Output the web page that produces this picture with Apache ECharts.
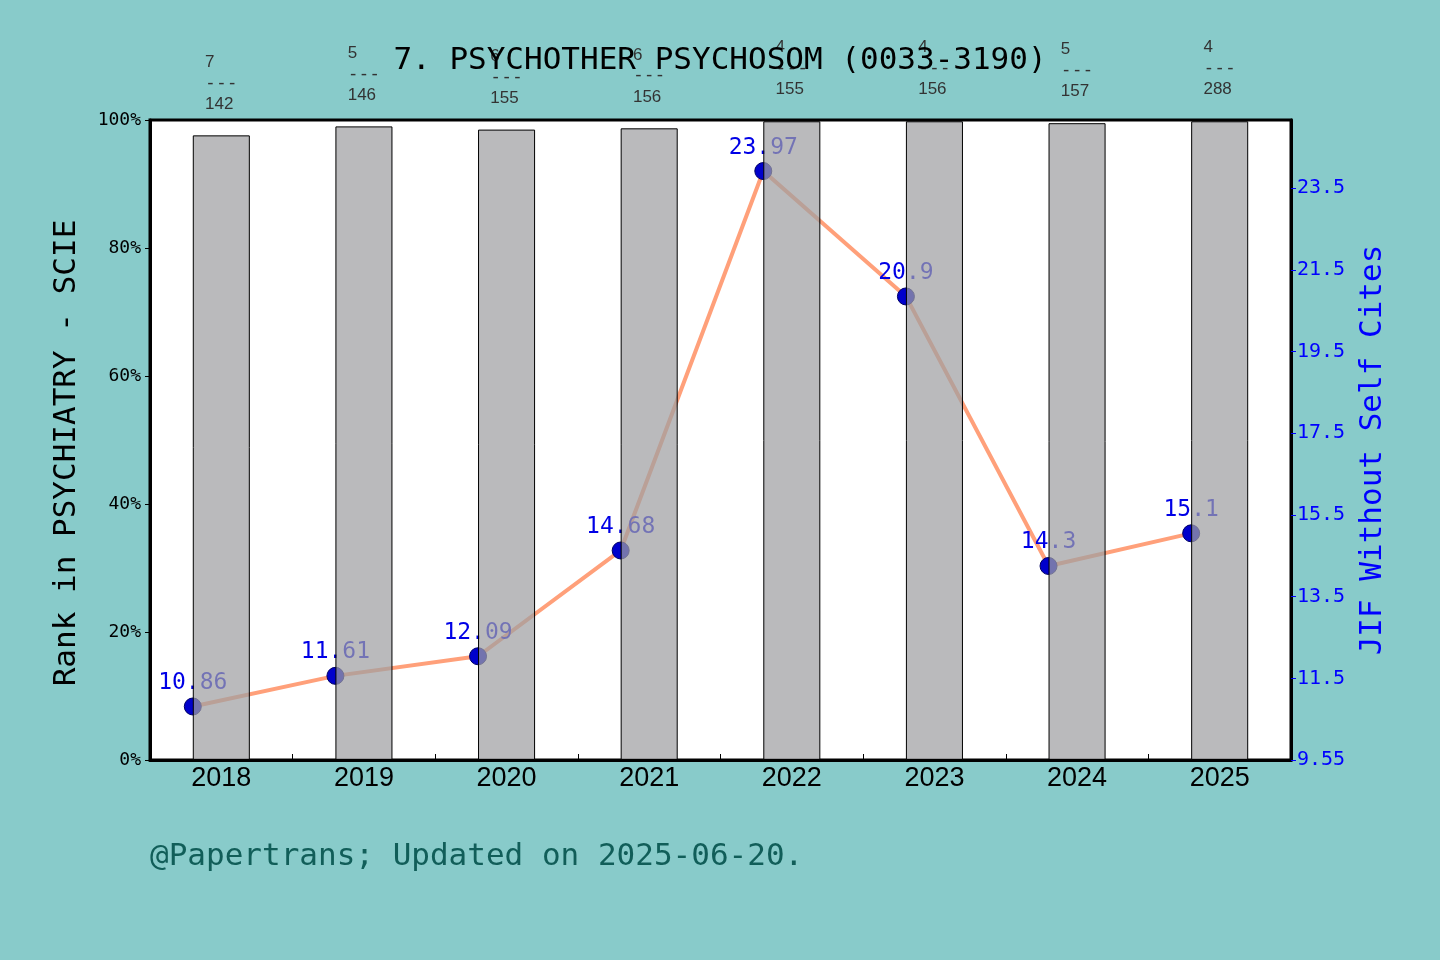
<!DOCTYPE html>
<html>
<head>
<meta charset="utf-8">
<script src="https://cdn.jsdelivr.net/npm/echarts@6/dist/echarts.min.js"></script>
<style>
html,body{margin:0;padding:0;background:#88cbca;}
#c{width:1440px;height:960px;}
</style>
</head>
<body>
<div id="c"></div>
<script>
const years = ['2018','2019','2020','2021','2022','2023','2024','2025'];
const rankPct = [97.6, 99.0, 98.5, 98.7, 99.8, 99.8, 99.5, 99.8];
const ranks = [7, 5, 6, 6, 4, 4, 5, 4];
const totals = [142, 146, 155, 156, 155, 156, 157, 288];
const jif = [10.86, 11.61, 12.09, 14.68, 23.97, 20.9, 14.3, 15.1];
const jifLabels = ['10.86','11.61','12.09','14.68','23.97','20.9','14.3','15.1'];
const pctTicks = [0, 20, 40, 60, 80, 100];
const jifTickValues = [9.55, 11.55, 13.55, 15.55, 17.55, 19.55, 21.55, 23.55];
const jifTickLabels = ['9.55','11.5','13.5','15.5','17.5','19.5','21.5','23.5'];
const jifMin = 9.55, jifMax = 25.22;
const titleText = '7. PSYCHOTHER PSYCHOSOM (0033-3190)';
const footerText = '@Papertrans; Updated on 2025-06-20.';
const leftName = 'Rank in PSYCHIATRY - SCIE';
const rightName = 'JIF Without Self Cites';

const MONO = '"DejaVu Sans Mono", "Liberation Mono", monospace';
const chart = echarts.init(document.getElementById('c'), null, {renderer: 'canvas'});

chart.setOption({
  backgroundColor: '#88cbca',
  animation: false,
  title: [{
    text: titleText,
    left: 'center',
    top: 38,
    textStyle: {fontFamily: MONO, fontSize: 31, fontWeight: 'normal', color: '#000', lineHeight: 36}
  }, {
    text: footerText,
    left: 145,
    top: 834,
    textStyle: {fontFamily: MONO, fontSize: 31, fontWeight: 'normal', color: '#115e59', lineHeight: 36}
  }],
  grid: {
    left: 150, right: 149, top: 120, bottom: 200,
    show: true, backgroundColor: '#ffffff', borderColor: '#000', borderWidth: 3,
    containLabel: false, outerBoundsMode: 'none'
  },
  xAxis: [{
    type: 'category',
    data: years,
    boundaryGap: true,
    axisLine: {onZero: false, lineStyle: {color: '#000', width: 3}},
    axisTick: {show: true, inside: true, length: 6, lineStyle: {color: '#000', width: 1}},
    axisLabel: {fontFamily: '"Liberation Sans", Arial, sans-serif', fontSize: 27, color: '#000', margin: 5},
    splitLine: {show: false}
  }, {
    type: 'value',
    min: -0.5, max: 7.5,
    show: false,
    axisLine: {onZero: false},
    splitLine: {show: false}
  }],
  yAxis: [{
    type: 'value',
    min: 0, max: 100, interval: 20,
    position: 'left',
    name: leftName,
    nameLocation: 'middle',
    nameGap: 68,
    nameTextStyle: {fontFamily: MONO, fontSize: 31, color: '#000', padding: [0, 26, 0, 0]},
    axisLine: {show: true, onZero: false, lineStyle: {color: '#000', width: 3}},
    axisTick: {show: true, length: 5, lineStyle: {color: '#000', width: 1}},
    axisLabel: {
      fontFamily: MONO, fontSize: 18, color: '#000', margin: 9,
      formatter: v => pctTicks.indexOf(v) >= 0 ? v + '%' : ''
    },
    splitLine: {show: false}
  }, {
    type: 'value',
    min: jifMin, max: jifMax,
    position: 'right',
    name: rightName,
    nameLocation: 'middle',
    nameGap: 66,
    nameRotate: 90,
    nameTextStyle: {fontFamily: MONO, fontSize: 31, color: '#0000ff', padding: [0, 20, 0, 0]},
    axisLine: {show: true, onZero: false, lineStyle: {color: '#000', width: 3}},
    axisTick: {show: true, length: 5, customValues: jifTickValues, lineStyle: {color: '#0000ff', width: 1}},
    axisLabel: {
      fontFamily: MONO, fontSize: 20, color: '#0000ff', margin: 6,
      customValues: jifTickValues,
      formatter: v => {
        for (let i = 0; i < jifTickValues.length; i++) {
          if (Math.abs(jifTickValues[i] - v) < 1e-6) return jifTickLabels[i];
        }
        return '';
      }
    },
    splitLine: {show: false}
  }],
  series: [{
    type: 'line',
    xAxisIndex: 1,
    yAxisIndex: 1,
    z: 2,
    data: jif.map((v, i) => [i - 0.2, v]),
    lineStyle: {color: '#ffa07a', width: 4},
    symbol: 'circle',
    symbolSize: 17,
    itemStyle: {color: '#0000cc', borderColor: '#000066', borderWidth: 1},
    label: {
      show: true,
      position: 'top',
      distance: 3,
      fontFamily: MONO, fontSize: 23, color: '#0000e6',
      formatter: p => jifLabels[p.dataIndex]
    }
  }, {
    type: 'bar',
    xAxisIndex: 0,
    yAxisIndex: 0,
    z: 3,
    data: rankPct,
    barWidth: '40%',
    itemStyle: {color: 'rgba(160,160,162,0.72)', borderColor: '#000', borderWidth: 1},
    label: {
      show: true,
      position: 'top',
      distance: 21,
      formatter: p => '{n|' + ranks[p.dataIndex] + '}\n{d|---}\n{n|' + totals[p.dataIndex] + '}',
      rich: {
        n: {fontFamily: '"Liberation Sans", Arial, sans-serif', fontSize: 17, color: '#333', align: 'left', lineHeight: 21},
        d: {fontFamily: MONO, fontSize: 18, color: '#333', align: 'left', lineHeight: 21}
      }
    }
  }]
});
</script>
</body>
</html>
